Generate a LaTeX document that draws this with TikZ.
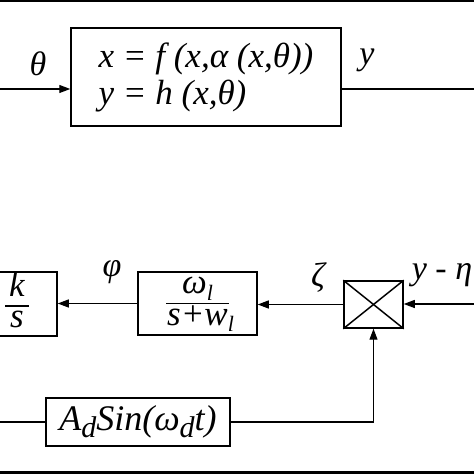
\documentclass[tikz,border=0pt]{standalone}
\usepackage{fontspec}
\newfontfamily\tms{Liberation Serif}
\usetikzlibrary{arrows.meta}
\newcommand\sbx[2][22]{\raisebox{-0.4ex}{\fontsize{#1}{#1}\selectfont #2}}
\newcommand\tmsit{\tms\itshape}
\newcommand\myfr[3][3pt]{{\renewcommand\arraystretch{0.8}\setlength\arrayrulewidth{1.6pt}%
  \begin{tabular}{@{\hspace{#1}}c@{\hspace{#1}}}#2\\\hline #3\end{tabular}}}
\begin{document}
\begin{tikzpicture}[x=1pt,y=1pt,
  blk/.style={draw, line width=1.5pt, inner sep=0pt, font=\fontsize{35}{37}\tmsit},
  wire/.style={line width=1.2pt},
  arr/.style={wire,-{Triangle[length=11pt,width=8pt]}},
  lbl/.style={inner sep=0pt, font=\fontsize{34}{37}\tmsit}]
\useasboundingbox (0,0) rectangle (474,474);
\draw[line width=3pt] (0,473) -- (474,473);
\draw[line width=3pt] (0,1) -- (474,1);
% top block
\node[blk, minimum width=270, minimum height=98, align=left] (plant) at (206,397)
  {x = f (x,α (x,θ))\\y = h (x,θ)};
\coordinate (thin) at (0,385);
\coordinate (yout) at (474,385);
\draw[arr] (thin) -- (thin -| plant.west);
\draw[wire] (plant.east |- yout) -- (yout);
\node[lbl] (thlbl) at (38,410) {θ};
\node[lbl] (ylbl) at (367,414) {y};
% lower loop
\node[blk, minimum width=80, minimum height=48] (int) at (17,170)
  {\myfr[4pt]{k}{s}};
\node[blk, minimum width=119, minimum height=63] (filt) at (197.5,170.5)
  {\myfr[1pt]{ω\sbx[22]{l}}{s+w\rlap{\sbx[22]{l}}}};
\node[draw, line width=1.5pt, minimum width=59, minimum height=47, inner sep=0pt] (mult) at (373.5,169.5) {};
\draw[line width=1.5pt] (mult.north west) -- (mult.south east);
\draw[line width=1.5pt] (mult.south west) -- (mult.north east);
\node[blk, minimum width=184, minimum height=48, font=\fontsize{36}{40}\tmsit] (dsrc) at (138,52)
  {A\sbx[30]{d}Sin(ω\sbx[30]{d}t)};
\coordinate (yin) at (474,170);
\coordinate (din) at (0,52);
\draw[arr] (yin) -- (yin -| mult.east);
\draw[arr] (mult.west) -- (mult.west -| filt.east);
\draw[arr] (filt.west) -- (filt.west -| int.east);
\draw[wire] (din) -- (dsrc.west);
\draw[arr] (dsrc.east) -| (mult.south);
\node[lbl] (philbl) at (112,202) {φ};
\node[lbl] (zetalbl) at (318,196) {ζ};
\node[lbl] (errlbl) at (442,199) {y - η};
\end{tikzpicture}
\end{document}
